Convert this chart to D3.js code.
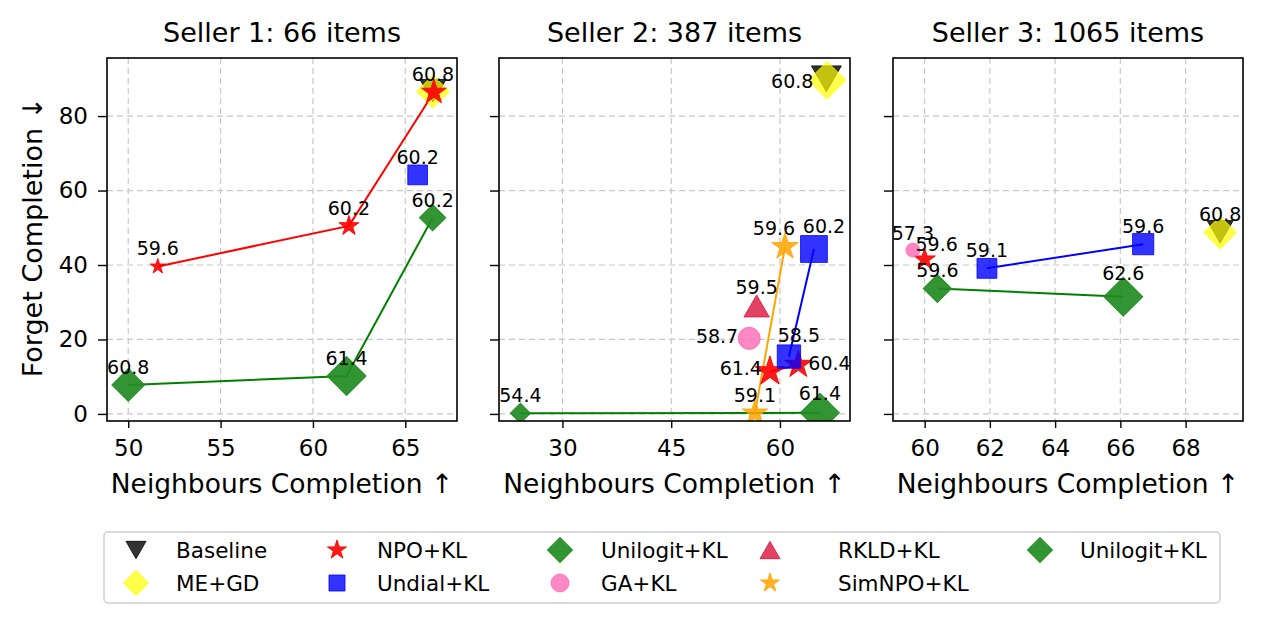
<!DOCTYPE html>
<html><head><meta charset="utf-8">
<script src="https://cdn.jsdelivr.net/npm/d3@7"></script>
<style>body{margin:0;background:#fff} text{font-family:"DejaVu Sans",sans-serif;fill:#000}</style>
</head><body><svg id="chart" width="1266" height="624"></svg>
<script>
// ---------------- data ----------------
const sellers = ["Seller 1: 66 items", "Seller 2: 387 items", "Seller 3: 1065 items"];
const methods = ["Baseline", "ME+GD", "NPO+KL", "Undial+KL", "Unilogit+KL", "GA+KL", "RKLD+KL", "SimNPO+KL", "Unilogit+KL"];
const xTicks = [[50, 55, 60, 65], [30, 45, 60], [60, 62, 64, 66, 68]];
const yTicks = [0, 20, 40, 60, 80];
const xDomains = [[48.85, 67.8], [21.25, 69.66], [59.03, 69.76]];
const yDomain = [-1.9, 95.6];
const xLabel = "Neighbours Completion ↑";
const yLabel = "Forget Completion ↓";

// one array per method (same order as `methods`)
const seller1Neighbours = [[66.5], [66.5], [51.6, 61.95, 66.55], [65.67], [50.0, 61.82, 66.48], [], [], [], []];
const seller1Forget     = [[86.8], [86.6], [39.6, 50.5, 86.4], [64.2], [7.8, 10.2, 52.7], [], [], [], []];
const seller1Utility    = [[60.8], [60.8], [59.6, 60.2, 60.8], [60.2], [60.8, 61.4, 60.2], [], [], [], []];

const seller2Neighbours = [[66.4], [66.5], [58.62, 62.53], [64.69, 61.24], [24.2, 65.5], [55.76], [56.78], [60.69, 56.55], []];
const seller2Forget     = [[90.0], [89.6], [11.4, 13.2], [44.3, 15.4], [0.2, 0.3], [20.3], [29.0], [44.9, 0.2], []];
const seller2Utility    = [[60.8], [60.8], [61.4, 60.4], [60.2, 58.5], [54.4, 61.4], [58.7], [59.5], [59.6, 59.1], []];

const seller3Neighbours = [[69.06], [69.06], [60.0], [61.91, 66.7], [60.39, 66.09], [59.64], [], [], []];
const seller3Forget     = [[48.9], [48.7], [41.5], [39.1, 45.6], [33.7, 31.5], [44.0], [], [], []];
const seller3Utility    = [[60.8], [60.8], [59.6], [59.1, 59.6], [59.6, 62.6], [57.3], [], [], []];

const neighbours = [seller1Neighbours, seller2Neighbours, seller3Neighbours];
const forget = [seller1Forget, seller2Forget, seller3Forget];
const utility = [seller1Utility, seller2Utility, seller3Utility];

// ---------------- styles ----------------
const mStyle = [
  {type: "triDown", color: "black", op: 0.8, k: 0.8, legW: 20},
  {type: "diamond", color: "yellow", op: 0.7, k: 1.0, legW: 25},
  {type: "star", color: "red", op: 0.9, k: 0.76, legW: 19, line: "red"},
  {type: "square", color: "blue", op: 0.8, k: 0.75, legW: 16, line: "blue"},
  {type: "diamond", color: "forestgreen", op: 0.92, k: 1.0, legW: 25, line: "green"},
  {type: "circle", color: "hotpink", op: 0.8, k: 0.7, legW: 18},
  {type: "triangle", color: "crimson", op: 0.8, k: 0.75, legW: 20},
  {type: "star", color: "orange", op: 0.85, k: 0.78, legW: 19, line: "orange"},
  {type: "diamond", color: "forestgreen", op: 0.92, k: 1.0, legW: 25, line: "green"}
];
// label placement overrides: key "panel-method-point" -> [dx, dy, anchor]
const labelPlace = {
  "0-0-0": [0, -10, "middle"],
  "1-0-0": [-13, 9, "end"],
  "1-7-0": [-11, -12, "middle"],
  "1-3-0": [10, -16, "middle"],
  "1-3-1": [10, -15, "middle"],
  "1-5-0": [-11, 5, "end"],
  "1-2-0": [-8, 4, "end"],
  "1-2-1": [10, 5, "start"],
  "1-4-1": [0, -13, "middle"],
  "1-6-0": [0, -12, "middle"],
  "2-2-0": [12, -8, "middle"],
  "2-4-1": [0, -17, "middle"],
  "2-5-0": [0, -10, "middle"]
};

const panelX = [[107, 457], [499, 850], [893, 1243]];
const plotTop = 58, plotBottom = 421;

function symPath(type, w) {
  switch (type) {
    case "diamond": return d3.symbol(d3.symbolSquare, w * w / 2)();
    case "square": return d3.symbol(d3.symbolSquare, w * w)();
    case "star": { const r = w / 1.902; return d3.symbol(d3.symbolStar, r * r / 0.8908130915292852)(); }
    case "triangle":
    case "triDown": { const h = w / (2 * Math.sqrt(3)); return d3.symbol(d3.symbolTriangle, h * h * 3 * Math.sqrt(3))(); }
    case "circle": return d3.symbol(d3.symbolCircle, Math.PI * w * w / 4)();
  }
}
function symTransform(type, x, y, w) {
  const h = w / (2 * Math.sqrt(3));
  if (type === "diamond") return `translate(${x},${y}) rotate(45)`;
  if (type === "triangle") return `translate(${x},${y + h / 2})`;
  if (type === "triDown") return `translate(${x},${y - h / 2}) rotate(180)`;
  return `translate(${x},${y})`;
}

const svg = d3.select("#chart");
svg.append("rect").attr("width", 1266).attr("height", 624).attr("fill", "#fff");

const yScale = d3.scaleLinear().domain(yDomain).range([plotBottom, plotTop]);

sellers.forEach((title, p) => {
  const [x0, x1] = panelX[p];
  const x = d3.scaleLinear().domain(xDomains[p]).range([x0, x1]);
  const y = yScale;
  const allU = utility[p].flat();
  const sizeScale = d3.scaleLinear().domain(d3.extent(allU)).range([20, 39]);
  const g = svg.append("g");
  const clipId = "clip" + p;
  svg.append("clipPath").attr("id", clipId).append("rect")
    .attr("x", x0).attr("y", plotTop).attr("width", x1 - x0).attr("height", plotBottom - plotTop);

  // grid
  const grid = g.append("g").attr("stroke", "#c8c8c8").attr("stroke-width", 1.2).attr("stroke-dasharray", "6,4");
  xTicks[p].forEach(t => grid.append("line").attr("x1", x(t)).attr("x2", x(t)).attr("y1", plotTop).attr("y2", plotBottom));
  yTicks.forEach(t => grid.append("line").attr("x1", x0).attr("x2", x1).attr("y1", y(t)).attr("y2", y(t)));

  const plot = g.append("g").attr("clip-path", `url(#${clipId})`);
  // lines
  methods.forEach((m, mi) => {
    const xs = neighbours[p][mi], ys = forget[p][mi];
    if (xs.length > 1 && mStyle[mi].line) {
      const pts = xs.map((v, i) => [x(v), y(ys[i])]);
      plot.append("path").attr("d", d3.line()(pts)).attr("fill", "none")
        .attr("stroke", mStyle[mi].line).attr("stroke-width", 2);
    }
  });
  // markers
  methods.forEach((m, mi) => {
    const st = mStyle[mi];
    neighbours[p][mi].forEach((v, i) => {
      const w = sizeScale(utility[p][mi][i]) * st.k;
      plot.append("path").attr("d", symPath(st.type, w))
        .attr("transform", symTransform(st.type, x(v), y(forget[p][mi][i]), w))
        .attr("fill", st.color).attr("fill-opacity", st.op)
        .attr("stroke", st.color).attr("stroke-opacity", st.op).attr("stroke-width", 1);
    });
  });
  // labels (identical labels at the same spot are drawn once)
  const drawn = [];
  methods.forEach((m, mi) => {
    neighbours[p][mi].forEach((v, i) => {
      const txt = utility[p][mi][i].toFixed(1);
      const px = x(v), py = y(forget[p][mi][i]);
      if (drawn.some(d => d.t === txt && Math.hypot(d.x - px, d.y - py) < 16)) return;
      drawn.push({t: txt, x: px, y: py});
      const pl = labelPlace[`${p}-${mi}-${i}`] || [0, -11, "middle"];
      g.append("text").attr("x", px + pl[0]).attr("y", py + pl[1])
        .attr("text-anchor", pl[2]).attr("font-size", 19)
        .text(txt);
    });
  });

  // frame
  g.append("rect").attr("x", x0).attr("y", plotTop).attr("width", x1 - x0).attr("height", plotBottom - plotTop)
    .attr("fill", "none").attr("stroke", "#000").attr("stroke-width", 1.6);

  // x axis
  const xa = g.append("g").attr("transform", `translate(0,${plotBottom})`)
    .call(d3.axisBottom(x).tickValues(xTicks[p]).tickSize(7).tickPadding(12).tickFormat(d3.format("d")));
  xa.select(".domain").remove();
  xa.selectAll("line").attr("stroke", "#000").attr("stroke-width", 1.4);
  xa.selectAll("text").attr("font-size", 23).attr("font-family", "DejaVu Sans").attr("fill", "#000");

  // y axis
  const ya = g.append("g").attr("transform", `translate(${x0},0)`)
    .call(d3.axisLeft(y).tickValues(yTicks).tickSize(9).tickPadding(10).tickFormat(p === 0 ? d3.format("d") : () => ""));
  ya.select(".domain").remove();
  ya.selectAll("line").attr("stroke", "#000").attr("stroke-width", 1.4);
  ya.selectAll("text").attr("font-size", 23).attr("font-family", "DejaVu Sans").attr("fill", "#000");

  // titles
  g.append("text").attr("x", (x0 + x1) / 2).attr("y", 42).attr("text-anchor", "middle")
    .attr("font-size", 27).text(title);
  g.append("text").attr("x", (x0 + x1) / 2).attr("y", 493).attr("text-anchor", "middle")
    .attr("font-size", 26.5).text(xLabel);
});

svg.append("text").attr("transform", "translate(42,237) rotate(-90)").attr("text-anchor", "middle")
  .attr("font-size", 27).text(yLabel);

// legend
const leg = svg.append("g");
leg.append("rect").attr("x", 104).attr("y", 532).attr("width", 1116).attr("height", 71)
  .attr("rx", 4).attr("fill", "#fff").attr("stroke", "#cfcfcf").attr("stroke-width", 1.5);
const legColMarker = [136, 337, 560, 770, 1040];
const legColText = [176, 377, 601, 838, 1080];
const legRowY = [550, 583];
methods.forEach((m, mi) => {
  const col = Math.floor(mi / 2), row = mi % 2;
  const st = mStyle[mi];
  const mx = legColMarker[col], my = legRowY[row];
  leg.append("path").attr("d", symPath(st.type, st.legW))
    .attr("transform", symTransform(st.type, mx, my, st.legW))
    .attr("fill", st.color).attr("fill-opacity", st.op)
    .attr("stroke", st.color).attr("stroke-opacity", st.op).attr("stroke-width", 1);
  leg.append("text").attr("x", legColText[col]).attr("y", my + 8).attr("font-size", 21.5).text(m);
});
</script></body></html>
